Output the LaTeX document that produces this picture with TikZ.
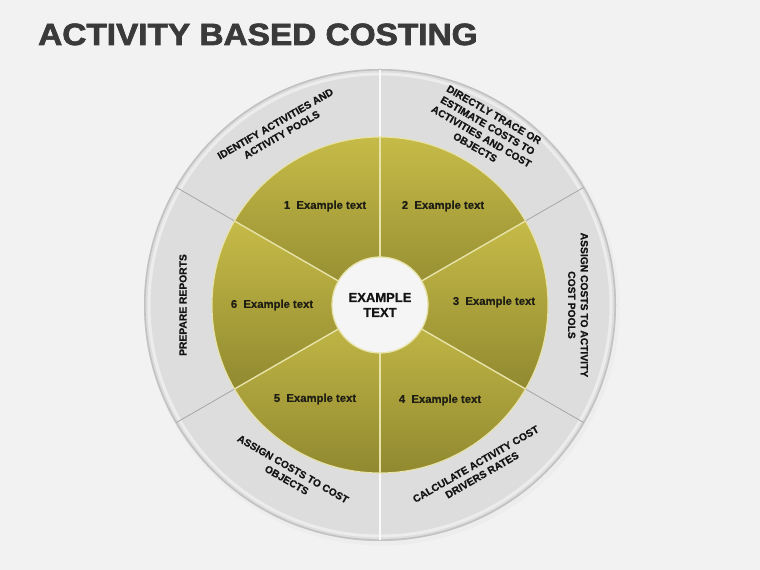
\documentclass[tikz,border=0pt]{standalone}
\usepackage{fontspec}
\setmainfont{Liberation Sans}
\newfontfamily\heavyfont{Liberation Sans Bold}[FakeBold=2.2]
\newfontfamily\labelfont{Liberation Sans Bold}[FakeBold=0.6]
\usetikzlibrary{calc}
\definecolor{bg}{HTML}{F2F2F2}
\definecolor{ringgray}{HTML}{DDDDDD}
\definecolor{ringedge}{HTML}{C2C2C2}
\definecolor{sepgray}{HTML}{A6A6A6}
\definecolor{olivelight}{HTML}{C6BB48}
\definecolor{olivedark}{HTML}{918930}
\definecolor{paleline}{HTML}{E8E3A8}
\definecolor{titlecol}{HTML}{3A3A3A}
\definecolor{centerfill}{HTML}{F5F5F5}
\definecolor{labelcol}{HTML}{1E1E14}
\begin{document}
\begin{tikzpicture}[x=1pt,y=1pt,
  outertext/.style={font=\labelfont\fontsize{10.3}{12.6}\selectfont, align=center, text=black!92, inner sep=0pt},
  innertext/.style={font=\labelfont\fontsize{11.3}{13}\selectfont, text=labelcol, inner sep=0pt},
  centertext/.style={font=\labelfont\fontsize{13}{15}\selectfont, align=center, text=black!92, inner sep=0pt},
  sector/.style={top color=olivelight, bottom color=olivedark},
]
\useasboundingbox (0,0) rectangle (760,570);
\fill[bg] (0,0) rectangle (760,570);
% title
\node[anchor=base west, inner sep=0pt, text=titlecol, font=\heavyfont\fontsize{30.7}{32}\selectfont] (title) at (38,525) {\scalebox{1.087}[1]{ACTIVITY BASED COSTING}};
\coordinate (C) at (380,265);
% outer ring
\fill[black!7] ([shift={(2,-3)}]C) circle[radius=237.5];
\fill[ringgray] (C) circle[radius=236];
\draw[ringedge, line width=1.6] (C) circle[radius=235.2];
\draw[white!45!ringgray, line width=3] (C) circle[radius=231];
\foreach \a in {30,150,210,330}
  \draw[sepgray, line width=0.8] ($(C)+(\a:168)$) -- ($(C)+(\a:235)$);
\foreach \a in {90,270}
  \draw[white!85!ringgray, line width=1.2] ($(C)+(\a:168)$) -- ($(C)+(\a:235)$);
% olive sectors
\foreach \a in {30,90,150,210,270,330}
  \shade[sector] (C) -- ++(\a:168) arc[start angle=\a, end angle=\a+60, radius=168] -- cycle;
\foreach \a in {30,90,150,210,270,330}
  \draw[paleline, line width=1.4] (C) -- ++(\a:168);
\draw[paleline, line width=1.1] (C) circle[radius=168];
% center
\fill[centerfill] (C) circle[radius=48];
\draw[paleline, line width=1.3] (C) circle[radius=48];
\node[centertext] (ctr) at (C) {EXAMPLE\\TEXT};
% inner labels
\node[innertext] (e1) at (325,364) {1\ \ Example text};
\node[innertext] (e2) at (443,364) {2\ \ Example text};
\node[innertext] (e3) at (494,268) {3\ \ Example text};
\node[innertext] (e4) at (440,170) {4\ \ Example text};
\node[innertext] (e5) at (315,171) {5\ \ Example text};
\node[innertext] (e6) at (272,265) {6\ \ Example text};
% outer labels
\node[outertext, rotate=30] (t1) at ($(C)+(120:203)$) {IDENTIFY ACTIVITIES AND\\ACTIVITY POOLS};
\node[outertext, rotate=-30] (t2) at ($(C)+(59:203)$) {DIRECTLY TRACE OR\\ESTIMATE COSTS TO\\ACTIVITIES AND COST\\OBJECTS};
\node[outertext, rotate=-90] (t3) at ($(C)+(0:198)$) {ASSIGN COSTS TO ACTIVITY\\COST POOLS};
\node[outertext, rotate=30] (t4) at ($(C)+(-59:192)$) {CALCULATE ACTIVITY COST\\DRIVERS RATES};
\node[outertext, rotate=-30] (t5) at ($(C)+(-118:192)$) {ASSIGN COSTS TO COST\\OBJECTS};
\node[outertext, rotate=90] (t6) at ($(C)+(180:197)$) {PREPARE REPORTS};
\end{tikzpicture}
\end{document}
